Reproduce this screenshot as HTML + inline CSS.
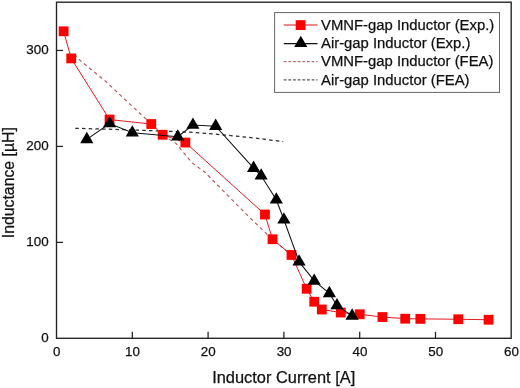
<!DOCTYPE html>
<html><head><meta charset="utf-8"><title>Inductance vs Inductor Current</title>
<style>
html,body{margin:0;padding:0;background:#fff;}
body{width:520px;height:388px;overflow:hidden;}
svg{display:block;}
text{font-family:"Liberation Sans",Arial,sans-serif;fill:#111;stroke:#111;stroke-width:0.25px;}
</style></head><body>
<svg width="520" height="388" viewBox="0 0 520 388">
<rect width="520" height="388" fill="#fff"/>

<polyline points="74.50,54.00 76.30,56.00 79.50,59.90 106.00,81.70 151.25,124.00 162.60,134.75 176.00,143.50 192.00,162.70 205.00,172.30 246.30,214.20 272.50,239.50 291.50,254.90" fill="none" stroke="#b85a5a" stroke-width="1.15" stroke-dasharray="3.5,3.2"/>
<polyline points="75.30,128.30 125.00,129.70 175.70,131.50 200.00,132.80 227.70,135.30 255.50,138.10 283.20,141.60" fill="none" stroke="#2a2a2a" stroke-width="1.25" stroke-dasharray="3.5,3.2"/>
<polyline points="63.63,31.29 71.21,58.41 109.56,119.55 151.25,124.05 162.62,134.78 185.36,142.54 264.95,214.51 272.53,239.24 291.48,254.95 306.64,288.78 314.22,301.72 321.80,309.48 340.75,312.55 359.70,314.27 382.44,317.05 405.18,318.68 420.34,318.87 458.24,319.25 488.56,319.73" fill="none" stroke="#dd1c24" stroke-width="1"/>
<rect x="58.73" y="26.39" width="9.8" height="9.8" fill="#ff0000"/>
<rect x="66.31" y="53.51" width="9.8" height="9.8" fill="#ff0000"/>
<rect x="104.66" y="114.65" width="9.8" height="9.8" fill="#ff0000"/>
<rect x="146.35" y="119.15" width="9.8" height="9.8" fill="#ff0000"/>
<rect x="157.72" y="129.88" width="9.8" height="9.8" fill="#ff0000"/>
<rect x="180.46" y="137.64" width="9.8" height="9.8" fill="#ff0000"/>
<rect x="260.05" y="209.61" width="9.8" height="9.8" fill="#ff0000"/>
<rect x="267.63" y="234.34" width="9.8" height="9.8" fill="#ff0000"/>
<rect x="286.58" y="250.05" width="9.8" height="9.8" fill="#ff0000"/>
<rect x="301.74" y="283.88" width="9.8" height="9.8" fill="#ff0000"/>
<rect x="309.32" y="296.82" width="9.8" height="9.8" fill="#ff0000"/>
<rect x="316.90" y="304.58" width="9.8" height="9.8" fill="#ff0000"/>
<rect x="335.85" y="307.65" width="9.8" height="9.8" fill="#ff0000"/>
<rect x="354.80" y="309.37" width="9.8" height="9.8" fill="#ff0000"/>
<rect x="377.54" y="312.15" width="9.8" height="9.8" fill="#ff0000"/>
<rect x="400.28" y="313.78" width="9.8" height="9.8" fill="#ff0000"/>
<rect x="415.44" y="313.97" width="9.8" height="9.8" fill="#ff0000"/>
<rect x="453.34" y="314.35" width="9.8" height="9.8" fill="#ff0000"/>
<rect x="483.66" y="314.83" width="9.8" height="9.8" fill="#ff0000"/>
<polyline points="86.82,139.38 109.56,123.47 132.30,132.67 177.78,136.70 192.94,125.01 215.68,126.16 253.58,168.13 261.16,175.80 276.32,199.75 283.90,219.69 299.06,261.66 314.22,280.92 329.38,293.38 336.96,305.46 352.12,315.90" fill="none" stroke="#111" stroke-width="1.05"/>
<polygon points="86.82,131.85 80.22,143.15 93.42,143.15" fill="#000"/>
<polygon points="109.56,115.94 102.96,127.24 116.16,127.24" fill="#000"/>
<polygon points="132.30,125.14 125.70,136.44 138.90,136.44" fill="#000"/>
<polygon points="177.78,129.17 171.18,140.47 184.38,140.47" fill="#000"/>
<polygon points="192.94,117.47 186.34,128.77 199.54,128.77" fill="#000"/>
<polygon points="215.68,118.62 209.08,129.92 222.28,129.92" fill="#000"/>
<polygon points="253.58,160.60 246.98,171.90 260.18,171.90" fill="#000"/>
<polygon points="261.16,168.26 254.56,179.56 267.76,179.56" fill="#000"/>
<polygon points="276.32,192.22 269.72,203.52 282.92,203.52" fill="#000"/>
<polygon points="283.90,212.15 277.30,223.45 290.50,223.45" fill="#000"/>
<polygon points="299.06,254.13 292.46,265.43 305.66,265.43" fill="#000"/>
<polygon points="314.22,273.39 307.62,284.69 320.82,284.69" fill="#000"/>
<polygon points="329.38,285.85 322.78,297.15 335.98,297.15" fill="#000"/>
<polygon points="336.96,297.92 330.36,309.22 343.56,309.22" fill="#000"/>
<polygon points="352.12,308.37 345.52,319.67 358.72,319.67" fill="#000"/>
<rect x="56.5" y="2.2" width="454.7" height="336.1" fill="none" stroke="#222" stroke-width="1.35"/>
<line x1="132.30" y1="338.3" x2="132.30" y2="331.8" stroke="#222" stroke-width="1.25"/>
<line x1="208.10" y1="338.3" x2="208.10" y2="331.8" stroke="#222" stroke-width="1.25"/>
<line x1="283.90" y1="338.3" x2="283.90" y2="331.8" stroke="#222" stroke-width="1.25"/>
<line x1="359.70" y1="338.3" x2="359.70" y2="331.8" stroke="#222" stroke-width="1.25"/>
<line x1="435.50" y1="338.3" x2="435.50" y2="331.8" stroke="#222" stroke-width="1.25"/>
<line x1="56.5" y1="242.38" x2="63.1" y2="242.38" stroke="#222" stroke-width="1.25"/>
<line x1="56.5" y1="146.41" x2="63.1" y2="146.41" stroke="#222" stroke-width="1.25"/>
<line x1="56.5" y1="50.44" x2="63.1" y2="50.44" stroke="#222" stroke-width="1.25"/>
<text x="56.70" y="356.4" font-size="13.4" text-anchor="middle">0</text>
<text x="132.50" y="356.4" font-size="13.4" text-anchor="middle">10</text>
<text x="208.30" y="356.4" font-size="13.4" text-anchor="middle">20</text>
<text x="284.10" y="356.4" font-size="13.4" text-anchor="middle">30</text>
<text x="359.90" y="356.4" font-size="13.4" text-anchor="middle">40</text>
<text x="435.70" y="356.4" font-size="13.4" text-anchor="middle">50</text>
<text x="511.50" y="356.4" font-size="13.4" text-anchor="middle">60</text>
<text x="48.7" y="341.65" font-size="13.4" text-anchor="end">0</text>
<text x="48.7" y="245.68" font-size="13.4" text-anchor="end">100</text>
<text x="48.7" y="149.71" font-size="13.4" text-anchor="end">200</text>
<text x="48.7" y="53.74" font-size="13.4" text-anchor="end">300</text>
<text x="283.7" y="383" font-size="16.4" text-anchor="middle">Inductor Current [A]</text>
<text transform="translate(14.2,182.7) rotate(-90)" font-size="15.8" text-anchor="middle">Inductance [µH]</text>
<rect x="274.6" y="12.6" width="224.9" height="79.8" fill="#fff" stroke="#666" stroke-width="1"/>
<line x1="283.75" y1="25" x2="317.5" y2="25" stroke="#d0141c" stroke-width="1.2"/>
<rect x="295.70" y="20.20" width="9.8" height="9.8" fill="#ff0000"/>
<line x1="283.75" y1="43.6" x2="317.5" y2="43.6" stroke="#111" stroke-width="1.2"/>
<polygon points="300.80,35.77 294.20,47.07 307.40,47.07" fill="#000"/>
<line x1="283.75" y1="61.6" x2="317.5" y2="61.6" stroke="#b87070" stroke-width="1.3" stroke-dasharray="2.8,1.85"/>
<line x1="283.75" y1="79.9" x2="317.5" y2="79.9" stroke="#555" stroke-width="1.3" stroke-dasharray="2.8,1.85"/>
<text x="321" y="29.70" font-size="14.85">VMNF-gap Inductor (Exp.)</text>
<text x="321" y="48.30" font-size="14.85">Air-gap Inductor (Exp.)</text>
<text x="321" y="66.30" font-size="14.85">VMNF-gap Inductor (FEA)</text>
<text x="321" y="84.60" font-size="14.85">Air-gap Inductor (FEA)</text>
</svg></body></html>
